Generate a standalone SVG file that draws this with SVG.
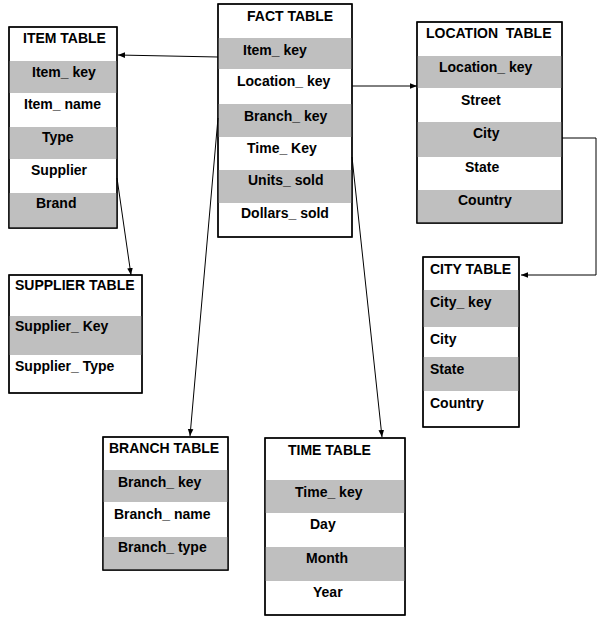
<svg xmlns="http://www.w3.org/2000/svg" width="603" height="620" viewBox="0 0 603 620">
<style>
.box{fill:#fff;stroke:#000;stroke-width:1.3}
.band{fill:#bfbfbf}
.frame{fill:none;stroke:#000;stroke-width:1.3}
text{font-family:"Liberation Sans",Arial,sans-serif;font-weight:bold;font-size:14px;fill:#000}
.conn{fill:none;stroke:#000;stroke-width:1}
</style>
<defs>
<marker id="arr" viewBox="0 0 8 8" refX="8" refY="4" markerWidth="7" markerHeight="7" markerUnits="userSpaceOnUse" orient="auto">
<path d="M0,0.8 L8,4 L0,7.2 Z" fill="#000"/>
</marker>
</defs>
<rect width="603" height="620" fill="#fff"/>

<g id="item-table">
<rect class="box" x="9" y="27" width="108" height="201"/>
<rect class="band" x="9" y="61" width="108" height="32"/>
<rect class="band" x="9" y="127" width="108" height="32"/>
<rect class="band" x="9" y="193" width="108" height="35"/>
<rect class="frame" x="9" y="27" width="108" height="201"/>
<text x="23" y="43">ITEM TABLE</text>
<text x="32" y="77">Item_ key</text>
<text x="24" y="109">Item_ name</text>
<text x="42" y="142">Type</text>
<text x="31" y="175">Supplier</text>
<text x="36" y="208">Brand</text>
</g>

<g id="fact-table">
<rect class="box" x="218" y="4" width="134" height="233"/>
<rect class="band" x="218" y="38" width="134" height="31"/>
<rect class="band" x="218" y="104" width="134" height="33"/>
<rect class="band" x="218" y="170" width="134" height="33"/>
<rect class="frame" x="218" y="4" width="134" height="233"/>
<text x="247" y="21">FACT TABLE</text>
<text x="243" y="55">Item_ key</text>
<text x="237" y="86">Location_ key</text>
<text x="244" y="121">Branch_ key</text>
<text x="247" y="153">Time_ Key</text>
<text x="248" y="185">Units_ sold</text>
<text x="241" y="218">Dollars_ sold</text>
</g>

<g id="location-table">
<rect class="box" x="417" y="22" width="145" height="201"/>
<rect class="band" x="417" y="56" width="145" height="32"/>
<rect class="band" x="417" y="122" width="145" height="35"/>
<rect class="band" x="417" y="190" width="145" height="33"/>
<rect class="frame" x="417" y="22" width="145" height="201"/>
<text x="426" y="38" xml:space="preserve">LOCATION  TABLE</text>
<text x="439" y="72">Location_ key</text>
<text x="461" y="105">Street</text>
<text x="473" y="138">City</text>
<text x="465" y="172">State</text>
<text x="458" y="205">Country</text>
</g>

<g id="supplier-table">
<rect class="box" x="9" y="275" width="133" height="118"/>
<rect class="band" x="9" y="316" width="133" height="39"/>
<rect class="frame" x="9" y="275" width="133" height="118"/>
<text x="15" y="290">SUPPLIER TABLE</text>
<text x="15" y="331">Supplier_ Key</text>
<text x="15" y="371">Supplier_ Type</text>
</g>

<g id="city-table">
<rect class="box" x="423" y="257" width="96" height="170"/>
<rect class="band" x="423" y="290" width="96" height="37"/>
<rect class="band" x="423" y="357" width="96" height="34"/>
<rect class="frame" x="423" y="257" width="96" height="170"/>
<text x="430" y="274">CITY TABLE</text>
<text x="430" y="307">City_ key</text>
<text x="430" y="344">City</text>
<text x="430" y="374">State</text>
<text x="430" y="408">Country</text>
</g>

<g id="branch-table">
<rect class="box" x="103" y="437" width="125" height="133"/>
<rect class="band" x="103" y="470" width="125" height="32"/>
<rect class="band" x="103" y="537" width="125" height="33"/>
<rect class="frame" x="103" y="437" width="125" height="133"/>
<text x="109" y="453">BRANCH TABLE</text>
<text x="118" y="487">Branch_ key</text>
<text x="114" y="519">Branch_ name</text>
<text x="118" y="552">Branch_ type</text>
</g>

<g id="time-table">
<rect class="box" x="265" y="438" width="140" height="177"/>
<rect class="band" x="265" y="480" width="140" height="33"/>
<rect class="band" x="265" y="547" width="140" height="34"/>
<rect class="frame" x="265" y="438" width="140" height="177"/>
<text x="288" y="455">TIME TABLE</text>
<text x="295" y="497">Time_ key</text>
<text x="310" y="529">Day</text>
<text x="306" y="563">Month</text>
<text x="313" y="597">Year</text>
</g>

<g id="connectors">
<line class="conn" x1="218" y1="57" x2="118" y2="55" marker-end="url(#arr)"/>
<line class="conn" x1="352" y1="86" x2="417" y2="86" marker-end="url(#arr)"/>
<line class="conn" x1="117" y1="178" x2="131" y2="275" marker-end="url(#arr)"/>
<line class="conn" x1="218" y1="118" x2="190" y2="436" marker-end="url(#arr)"/>
<line class="conn" x1="352" y1="157" x2="382" y2="437" marker-end="url(#arr)"/>
<polyline class="conn" points="562,138 596,138 596,275 521,275" marker-end="url(#arr)"/>
</g>
</svg>
